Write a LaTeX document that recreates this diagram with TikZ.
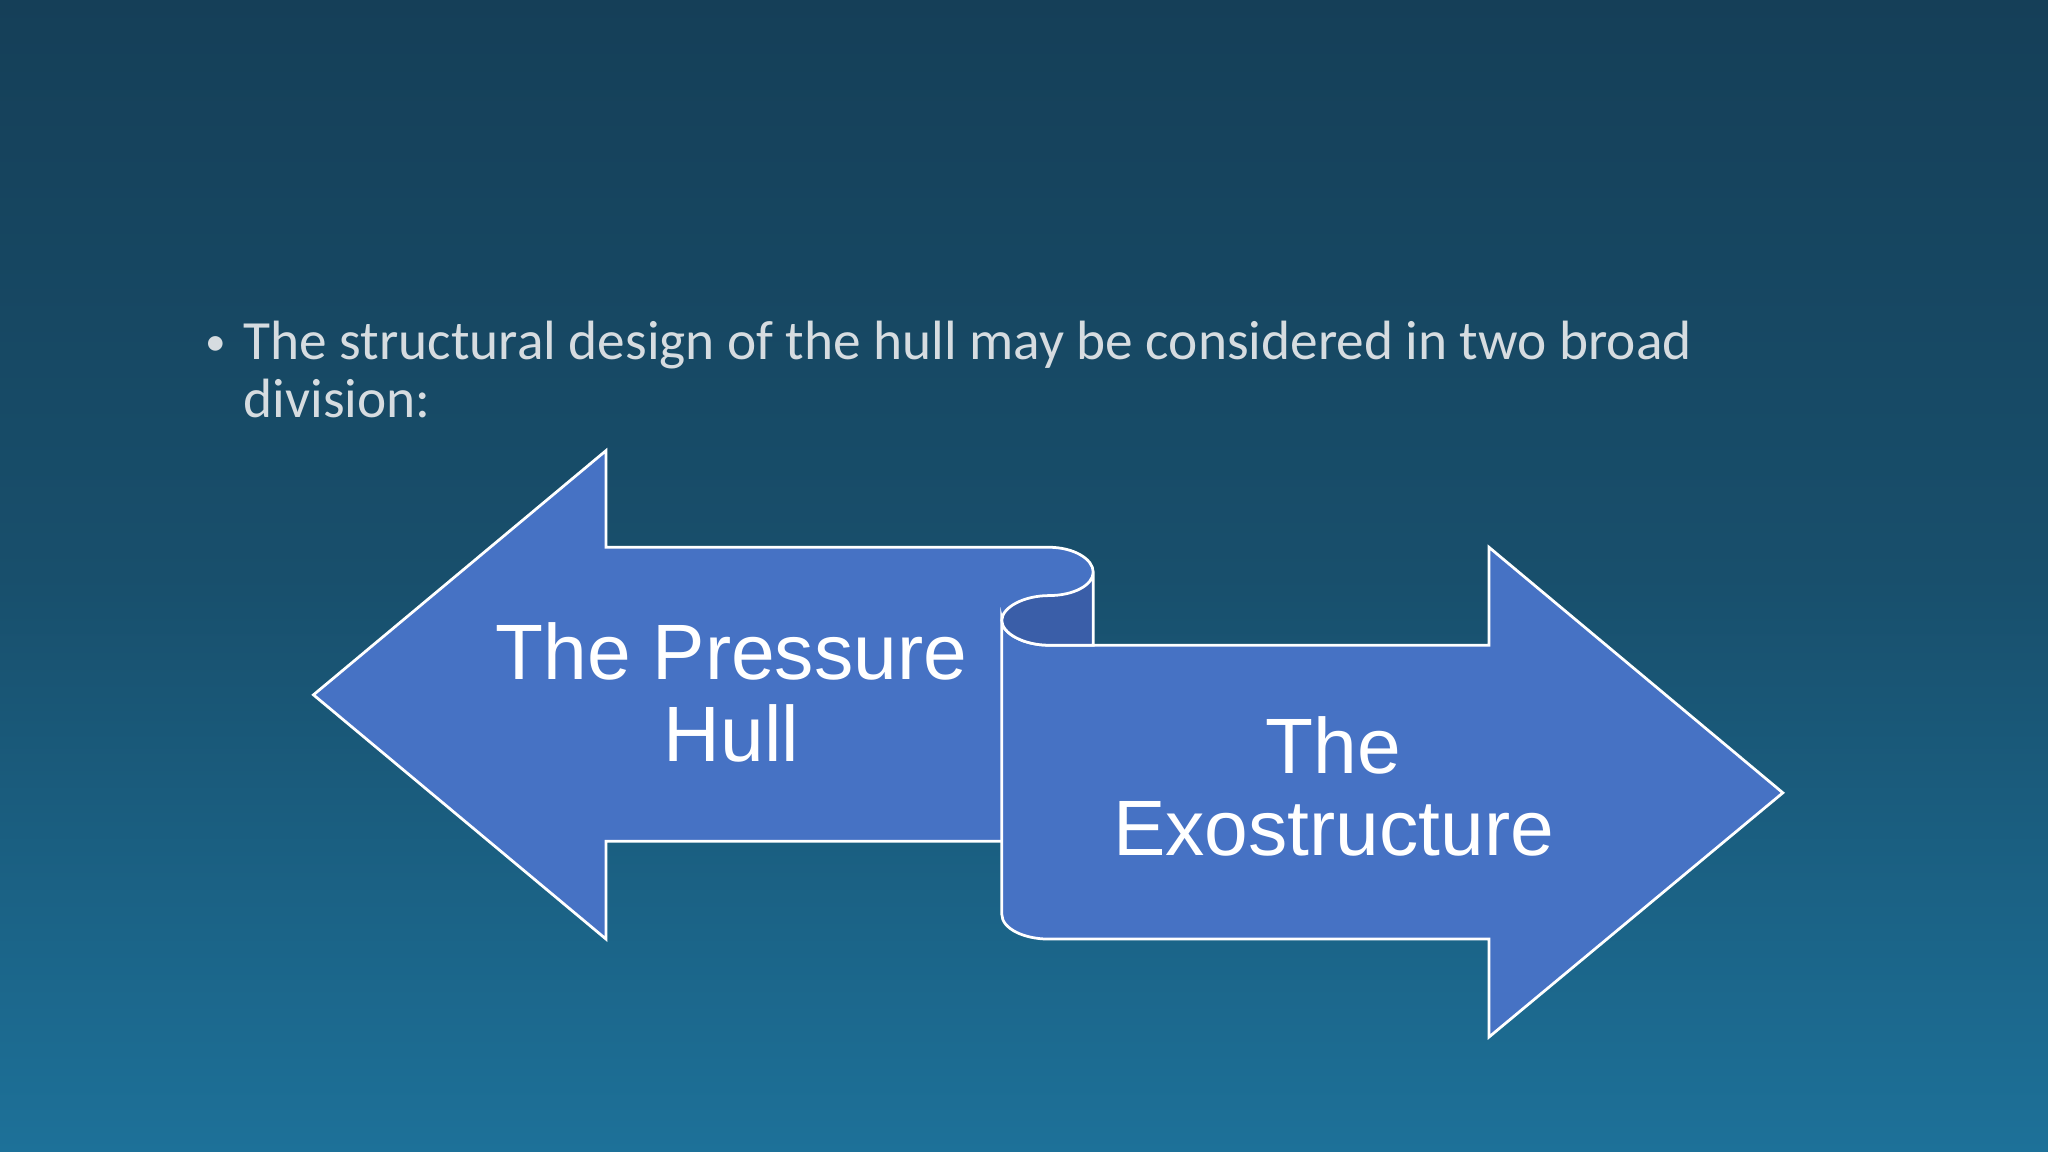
\documentclass[tikz,border=0pt]{standalone}
\usepackage{fontspec}
\setmainfont{Carlito}
\newfontfamily\arialf{Liberation Sans}
\definecolor{bgtop}{HTML}{153F58}
\definecolor{bgmid}{HTML}{184F6C}
\definecolor{bgbot}{HTML}{1D7199}
\definecolor{arrowblue}{HTML}{4672C4}
\definecolor{folddark}{HTML}{3A5EA8}
\definecolor{bodytext}{HTML}{D6DCE0}
\tikzset{
  shapefill/.style={fill=arrowblue, draw=white, line width=0.6pt, line join=miter},
  bodyline/.style={anchor=base west, text=bodytext, font=\fontsize{12.05pt}{14pt}\selectfont, inner sep=0pt},
  bigtext/.style={anchor=base, text=white, font=\arialf\fontsize{17.1pt}{20pt}\selectfont, inner sep=0pt}
}
\begin{document}
\begin{tikzpicture}[x=0.01cm,y=-0.01cm]
\useasboundingbox (0,0) rectangle (1568,882);
\shade[top color=bgtop, bottom color=bgbot, middle color=bgmid] (0,0) rectangle (1568,882);
% left arrow
\fill[arrowblue] (240,532)--(464,345)--(464,419)--(803,419)
  .. controls (822,419) and (837,428) .. (837,438)
  -- (837,494) -- (767,494) -- (767,644)--(464,644)--(464,719)--cycle;
\draw[white, line width=0.6pt] (767,644)--(464,644)--(464,719)--(240,532)--(464,345)--(464,419)--(803,419)
  .. controls (822,419) and (837,428) .. (837,438);
% right arrow
\draw[shapefill] (767,475) .. controls (767,485) and (784,494) .. (803,494)
  -- (1140,494)--(1140,419)--(1365,607)--(1140,794)--(1140,719)--(803,719)
  .. controls (784,719) and (767,711) .. (767,700) -- cycle;
% fold
\draw[fill=folddark, draw=white, line width=0.6pt] (837,438) .. controls (837,448) and (822,456) .. (803,456)
  .. controls (784,456) and (767,465) .. (767,475)
  .. controls (767,485) and (784,494) .. (803,494) -- (837,494) -- cycle;
% texts
\node[bodyline, font=\fontsize{9pt}{10pt}\selectfont] (bullet) at (157,272) {•};
\node[bodyline] (line1) at (186,275) {The structural design of the hull may be considered in two broad};
\node[bodyline] (line2) at (186,320) {division:};
\node[bigtext] (ph1) at (560,520) {The Pressure};
\node[bigtext] (ph2) at (560,583) {Hull};
\node[bigtext] (ex1) at (1021,592) {The};
\node[bigtext] (ex2) at (1021,655) {Exostructure};
\end{tikzpicture}
\end{document}
